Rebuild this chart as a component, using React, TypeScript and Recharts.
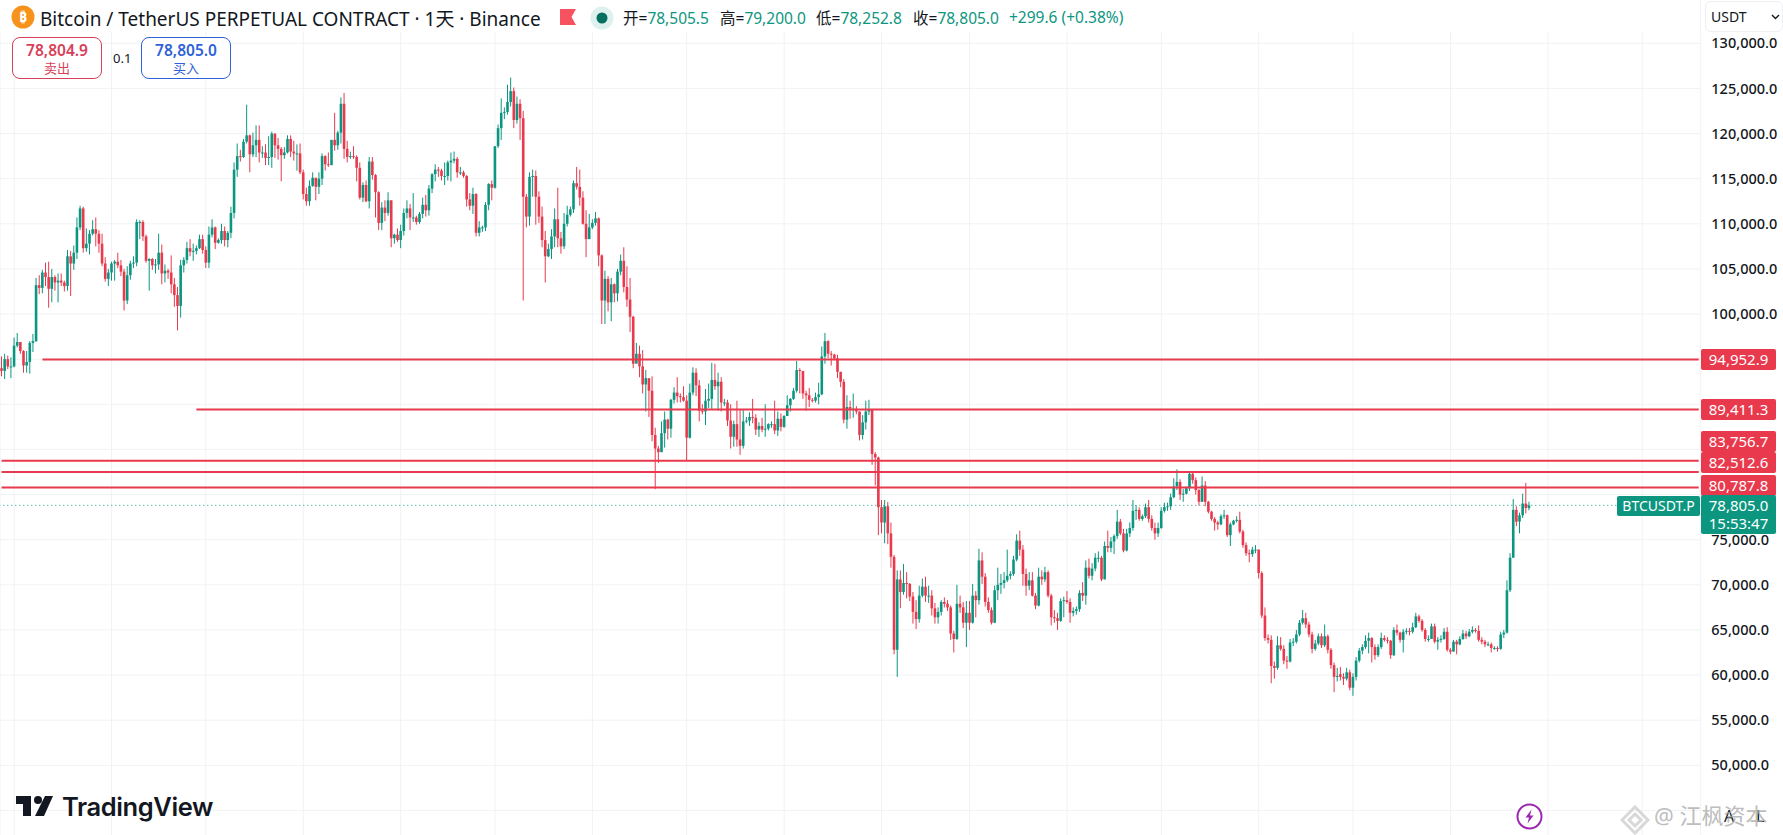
import { Bar, CartesianGrid, ComposedChart, ReferenceLine, XAxis, YAxis } from "recharts";

// daily candles in thousands of USDT, one row per month
const opens = [
  94.0, 93.7, 95.0, 94.2,
  94.2, 96.5, 96.9, 95.9, 94.3, 94.7, 96.8, 97.0, 103.2, 102.9, 104.6, 104.1, 102.8, 104.1, 103.5, 103.7, 103.5, 103.1, 106.4, 105.6, 106.8, 109.6, 111.7, 107.3, 107.8, 108.9, 109.4, 108.9, 107.8, 105.6, 103.9,
  104.6, 105.6, 105.8, 105.4, 104.7, 101.5, 104.3, 105.6, 105.7, 110.2, 110.2, 108.6, 105.9, 106.1, 105.4, 105.5, 106.8, 104.5, 104.8, 104.6, 103.3, 102.1, 100.9, 105.4, 106.0, 107.3, 106.9, 107.0, 107.3, 108.3,
  107.1, 105.7, 108.8, 109.6, 107.9, 108.2, 109.2, 108.2, 109.0, 111.2, 116.0, 117.5, 117.4, 119.1, 119.8, 117.7, 118.7, 119.3, 117.9, 117.9, 117.3, 117.4, 120.0, 118.7, 118.3, 117.6, 117.9, 119.4, 118.0, 117.8, 117.8,
  115.7, 113.3, 112.5, 114.2, 115.1, 114.1, 115.0, 117.5, 116.6, 116.5, 119.3, 118.7, 120.1, 123.3, 118.3, 117.4, 117.5, 117.4, 116.2, 112.9, 114.3, 112.5, 116.9, 115.4, 113.5, 110.1, 111.8, 111.2, 112.6, 108.4, 108.8,
  108.2, 109.2, 111.2, 111.7, 110.7, 110.7, 110.2, 111.1, 112.1, 111.5, 113.9, 115.5, 116.0, 115.9, 115.3, 115.3, 116.8, 117.0, 117.2, 115.7, 115.7, 115.3, 112.7, 112.0, 113.3, 109.0, 109.6, 109.6, 112.1, 114.4,
  114.0, 118.6, 120.6, 122.3, 122.4, 123.5, 124.7, 121.5, 123.3, 121.7, 113.0, 110.8, 115.2, 115.3, 113.0, 110.8, 108.2, 106.4, 107.2, 108.6, 110.5, 108.4, 107.5, 110.0, 111.0, 111.6, 114.5, 114.1, 112.9, 110.0, 108.3,
  109.6, 110.1, 110.6, 106.5, 101.5, 103.9, 101.3, 103.3, 102.3, 104.7, 105.9, 103.0, 101.6, 99.7, 94.5, 95.6, 94.2, 92.2, 92.9, 91.5, 86.6, 85.1, 84.7, 86.8, 88.3, 87.3, 90.5, 91.3, 90.9, 90.8,
  90.4, 86.3, 91.3, 93.5, 92.1, 89.3, 89.2, 90.4, 90.6, 92.7, 92.0, 92.5, 90.2, 90.2, 88.2, 86.4, 87.8, 86.1, 85.4, 88.1, 88.2, 88.6, 88.5, 87.2, 87.6, 87.2, 87.3, 87.8, 87.8, 87.1, 88.4,
  87.5, 88.7, 89.9, 90.6, 91.5, 93.8, 93.7, 91.2, 91.0, 90.5, 90.4, 90.8, 91.1, 95.3, 97.0, 95.6, 95.5, 95.1, 93.6, 92.5, 88.3, 89.7, 89.5, 89.5, 89.2, 86.6, 88.0, 89.2, 89.4, 84.5, 84.1,
  78.6, 76.9, 78.7, 75.7, 73.1, 62.8, 70.6, 69.2, 70.2, 70.1, 68.7, 67.0, 66.2, 68.8, 69.8, 68.8, 68.8, 67.4, 66.4, 67.0, 68.1, 67.9, 67.5, 64.6, 64.0, 67.9, 67.5, 65.8,
  66.9, 65.8, 68.8, 68.3, 72.7, 70.9, 68.1, 67.2, 65.8, 69.4, 70.0, 70.2, 70.5, 71.0, 71.2, 72.8, 74.9, 73.9, 71.2, 69.9, 70.5, 68.8, 67.7, 70.9, 70.6, 71.4, 68.8, 66.4, 66.3, 66.0, 68.2,
  68.3, 68.1, 66.9, 67.1, 67.3, 69.1, 68.8, 71.9, 71.0, 71.8, 73.0, 73.0, 70.6, 74.3, 74.1, 74.8, 75.4, 77.0, 75.7, 73.8, 75.7, 76.3, 78.2, 78.3, 77.3, 77.6, 78.6, 77.3, 76.3, 75.7,
  76.3, 78.2, 78.6, 78.7, 79.7, 80.9, 81.4, 80.0, 80.1, 80.7, 82.3, 81.6, 80.5, 79.2, 81.0, 79.2, 78.1, 77.3, 76.9, 76.7, 77.6, 77.7, 75.5, 76.7, 77.1, 77.2, 75.9, 74.4, 73.5, 73.4, 73.9,
  73.9, 71.3, 66.6, 64.1, 63.9, 61.0, 60.8, 63.3, 62.9, 61.6, 61.5, 63.6, 63.7, 64.5, 65.8, 66.3, 65.6, 64.5, 62.9, 63.5, 64.3, 63.3, 64.3, 62.8, 61.1, 59.8, 60.1, 59.8, 59.6, 60.3,
  58.6, 59.8, 61.6, 62.7, 63.1, 63.8, 64.1, 63.1, 62.2, 63.1, 64.1, 63.9, 63.8, 62.2, 65.0, 64.7, 63.9, 64.8, 64.9, 64.8, 65.3, 66.5, 66.0, 65.0, 64.0, 64.0, 65.4, 63.7, 63.9, 64.0, 64.8,
  62.8, 62.6, 63.7, 63.4, 64.0, 64.6, 64.3, 64.8, 65.0, 64.9, 63.9, 63.7, 63.4, 63.4, 63.0, 63.0, 62.9, 64.5, 64.7, 69.4, 73.0, 78.3, 77.0, 77.7, 79.0, 78.5055,
];
const closes = [
  93.7, 95.0, 94.2, 94.2,
  96.5, 96.9, 95.9, 94.3, 94.7, 96.8, 97.0, 103.2, 102.9, 104.6, 104.1, 102.8, 104.1, 103.5, 103.7, 103.5, 103.1, 106.4, 105.6, 106.8, 109.6, 111.7, 107.3, 107.8, 108.9, 109.4, 108.9, 107.8, 105.6, 103.9, 104.6,
  105.6, 105.8, 105.4, 104.7, 101.5, 104.3, 105.6, 105.7, 110.2, 110.2, 108.6, 105.9, 106.1, 105.4, 105.5, 106.8, 104.5, 104.8, 104.6, 103.3, 102.1, 100.9, 105.4, 106.0, 107.3, 106.9, 107.0, 107.3, 108.3, 107.1,
  105.7, 108.8, 109.6, 107.9, 108.2, 109.2, 108.2, 109.0, 111.2, 116.0, 117.5, 117.4, 119.1, 119.8, 117.7, 118.7, 119.3, 117.9, 117.9, 117.3, 117.4, 120.0, 118.7, 118.3, 117.6, 117.9, 119.4, 118.0, 117.8, 117.8, 115.7,
  113.3, 112.5, 114.2, 115.1, 114.1, 115.0, 117.5, 116.6, 116.5, 119.3, 118.7, 120.1, 123.3, 118.3, 117.4, 117.5, 117.4, 116.2, 112.9, 114.3, 112.5, 116.9, 115.4, 113.5, 110.1, 111.8, 111.2, 112.6, 108.4, 108.8, 108.2,
  109.2, 111.2, 111.7, 110.7, 110.7, 110.2, 111.1, 112.1, 111.5, 113.9, 115.5, 116.0, 115.9, 115.3, 115.3, 116.8, 117.0, 117.2, 115.7, 115.7, 115.3, 112.7, 112.0, 113.3, 109.0, 109.6, 109.6, 112.1, 114.4, 114.0,
  118.6, 120.6, 122.3, 122.4, 123.5, 124.7, 121.5, 123.3, 121.7, 113.0, 110.8, 115.2, 115.3, 113.0, 110.8, 108.2, 106.4, 107.2, 108.6, 110.5, 108.4, 107.5, 110.0, 111.0, 111.6, 114.5, 114.1, 112.9, 110.0, 108.3, 109.6,
  110.1, 110.6, 106.5, 101.5, 103.9, 101.3, 103.3, 102.3, 104.7, 105.9, 103.0, 101.6, 99.7, 94.5, 95.6, 94.2, 92.2, 92.9, 91.5, 86.6, 85.1, 84.7, 86.8, 88.3, 87.3, 90.5, 91.3, 90.9, 90.8, 90.4,
  86.3, 91.3, 93.5, 92.1, 89.3, 89.2, 90.4, 90.6, 92.7, 92.0, 92.5, 90.2, 90.2, 88.2, 86.4, 87.8, 86.1, 85.4, 88.1, 88.2, 88.6, 88.5, 87.2, 87.6, 87.2, 87.3, 87.8, 87.8, 87.1, 88.4, 87.5,
  88.7, 89.9, 90.6, 91.5, 93.8, 93.7, 91.2, 91.0, 90.5, 90.4, 90.8, 91.1, 95.3, 97.0, 95.6, 95.5, 95.1, 93.6, 92.5, 88.3, 89.7, 89.5, 89.5, 89.2, 86.6, 88.0, 89.2, 89.4, 84.5, 84.1, 78.6,
  76.9, 78.7, 75.7, 73.1, 62.8, 70.6, 69.2, 70.2, 70.1, 68.7, 67.0, 66.2, 68.8, 69.8, 68.8, 68.8, 67.4, 66.4, 67.0, 68.1, 67.9, 67.5, 64.6, 64.0, 67.9, 67.5, 65.8, 66.9,
  65.8, 68.8, 68.3, 72.7, 70.9, 68.1, 67.2, 65.8, 69.4, 70.0, 70.2, 70.5, 71.0, 71.2, 72.8, 74.9, 73.9, 71.2, 69.9, 70.5, 68.8, 67.7, 70.9, 70.6, 71.4, 68.8, 66.4, 66.3, 66.0, 68.2, 68.3,
  68.1, 66.9, 67.1, 67.3, 69.1, 68.8, 71.9, 71.0, 71.8, 73.0, 73.0, 70.6, 74.3, 74.1, 74.8, 75.4, 77.0, 75.7, 73.8, 75.7, 76.3, 78.2, 78.3, 77.3, 77.6, 78.6, 77.3, 76.3, 75.7, 76.3,
  78.2, 78.6, 78.7, 79.7, 80.9, 81.4, 80.0, 80.1, 80.7, 82.3, 81.6, 80.5, 79.2, 81.0, 79.2, 78.1, 77.3, 76.9, 76.7, 77.6, 77.7, 75.5, 76.7, 77.1, 77.2, 75.9, 74.4, 73.5, 73.4, 73.9, 73.9,
  71.3, 66.6, 64.1, 63.9, 61.0, 60.8, 63.3, 62.9, 61.6, 61.5, 63.6, 63.7, 64.5, 65.8, 66.3, 65.6, 64.5, 62.9, 63.5, 64.3, 63.3, 64.3, 62.8, 61.1, 59.8, 59.9, 59.8, 59.6, 60.3, 58.6,
  59.8, 61.6, 62.7, 63.1, 63.8, 64.1, 63.1, 62.2, 63.1, 64.1, 63.9, 63.8, 62.2, 65.0, 64.7, 63.9, 64.8, 64.9, 64.8, 65.3, 66.5, 66.0, 65.0, 64.0, 64.0, 65.4, 63.7, 63.9, 64.0, 64.8, 62.8,
  62.6, 63.7, 63.4, 64.0, 64.6, 64.3, 64.8, 65.0, 64.9, 63.9, 63.7, 63.4, 63.4, 63.0, 63.0, 62.9, 64.5, 64.7, 69.4, 73.0, 78.3, 77.0, 77.7, 79.0, 78.5, 78.805,
];
const highs = [
  95.3, 95.6, 95.4, 95.2,
  97.4, 97.9, 96.9, 96.0, 95.9, 97.0, 97.8, 104.0, 104.3, 104.9, 105.7, 105.8, 105.0, 104.3, 104.5, 104.5, 103.7, 107.1, 107.0, 107.6, 110.7, 112.0, 111.9, 109.5, 109.3, 110.4, 110.7, 109.3, 108.9, 106.3, 105.0,
  105.8, 106.0, 106.8, 106.0, 105.0, 105.3, 105.9, 106.4, 110.5, 110.4, 110.4, 108.8, 106.2, 106.2, 106.1, 108.9, 107.7, 105.5, 105.0, 106.5, 104.0, 103.0, 106.0, 106.3, 108.0, 108.3, 107.8, 107.6, 108.8, 108.8,
  107.5, 109.7, 110.5, 109.7, 108.4, 110.0, 109.7, 109.2, 111.9, 116.8, 118.9, 118.2, 119.4, 123.2, 119.9, 120.1, 120.9, 120.9, 118.6, 118.8, 119.7, 120.2, 120.0, 119.5, 118.5, 118.5, 119.8, 119.8, 119.2, 118.8, 118.9,
  116.0, 114.0, 114.8, 115.7, 115.1, 115.7, 117.8, 117.6, 117.9, 119.3, 122.3, 120.3, 124.0, 124.5, 119.2, 118.0, 118.6, 117.6, 116.8, 114.6, 114.8, 117.4, 117.4, 115.5, 113.6, 112.4, 112.6, 113.5, 112.6, 108.9, 109.5,
  109.9, 111.7, 112.6, 112.2, 113.4, 110.9, 111.3, 112.9, 113.2, 114.3, 115.6, 116.6, 116.3, 116.1, 116.8, 117.0, 117.9, 118.0, 117.4, 116.3, 115.9, 115.4, 113.4, 114.0, 113.4, 110.3, 109.8, 112.4, 114.5, 114.8,
  118.6, 121.0, 123.9, 122.9, 125.4, 126.2, 125.1, 124.1, 123.8, 122.5, 113.3, 115.7, 116.0, 115.9, 113.6, 111.9, 109.2, 107.8, 109.4, 111.7, 114.0, 109.1, 111.2, 112.0, 111.9, 114.8, 116.3, 116.0, 113.6, 111.5, 111.1,
  110.5, 111.3, 110.7, 106.6, 104.8, 104.2, 104.0, 103.4, 105.0, 106.6, 107.4, 105.3, 104.0, 99.8, 96.8, 96.5, 96.0, 93.8, 92.8, 93.1, 87.4, 85.4, 88.1, 89.2, 88.4, 90.6, 91.9, 93.0, 91.2, 92.0,
  91.0, 92.3, 94.1, 94.0, 92.7, 90.0, 91.7, 92.3, 94.6, 94.5, 93.5, 93.0, 90.6, 90.5, 90.0, 88.2, 90.4, 89.4, 89.4, 88.6, 89.1, 90.6, 88.9, 88.0, 88.5, 90.0, 87.9, 88.1, 90.4, 89.2, 89.0,
  88.8, 91.0, 90.7, 91.8, 94.8, 94.0, 93.5, 91.5, 91.8, 90.7, 91.3, 92.4, 96.4, 97.9, 97.1, 95.9, 95.6, 95.5, 93.6, 92.8, 91.0, 90.4, 91.2, 89.8, 89.2, 88.8, 90.4, 90.5, 89.4, 84.7, 84.2,
  79.4, 79.4, 79.2, 76.9, 73.3, 71.6, 71.6, 72.3, 71.4, 70.2, 69.2, 68.3, 69.9, 70.7, 70.9, 69.9, 69.4, 68.0, 67.5, 68.3, 68.6, 68.3, 67.7, 64.9, 70.0, 68.8, 68.1, 68.2,
  68.2, 70.1, 69.3, 74.0, 73.6, 71.3, 68.6, 67.5, 69.9, 71.9, 71.2, 71.4, 73.9, 71.5, 73.2, 75.6, 76.0, 74.4, 71.8, 71.4, 71.4, 69.1, 71.9, 71.6, 72.0, 71.6, 69.0, 67.2, 66.9, 68.5, 68.7,
  69.3, 68.5, 67.5, 67.6, 69.4, 70.3, 72.7, 72.9, 72.4, 73.5, 73.7, 73.2, 74.8, 76.0, 75.3, 75.6, 78.3, 77.3, 76.2, 76.2, 76.9, 79.4, 78.8, 78.6, 77.8, 79.0, 79.4, 77.7, 76.9, 76.9,
  78.6, 79.1, 79.1, 80.1, 81.8, 82.8, 81.7, 80.6, 80.9, 82.6, 82.5, 81.9, 80.6, 82.0, 81.5, 79.3, 78.2, 77.5, 77.1, 77.8, 78.3, 77.8, 76.9, 77.2, 77.6, 78.1, 76.1, 74.7, 73.9, 74.2, 74.4,
  73.9, 71.5, 67.5, 64.5, 64.4, 61.5, 64.3, 64.2, 63.3, 62.1, 64.0, 64.1, 65.0, 66.1, 67.2, 66.9, 65.9, 64.8, 63.9, 64.6, 64.6, 65.6, 64.5, 63.0, 61.4, 60.8, 60.9, 60.2, 60.8, 60.6,
  60.2, 62.0, 63.0, 63.4, 64.4, 64.7, 64.2, 63.4, 63.4, 64.7, 64.4, 64.2, 63.9, 65.3, 65.6, 64.8, 65.1, 65.2, 65.2, 65.8, 66.9, 66.7, 66.2, 65.2, 64.4, 65.7, 65.7, 64.2, 64.4, 65.2, 65.3,
  63.0, 63.9, 63.9, 64.3, 65.0, 64.9, 65.1, 65.4, 65.2, 65.5, 64.2, 63.9, 63.7, 63.6, 63.2, 63.2, 64.8, 65.0, 70.5, 73.5, 79.5, 78.7, 78.0, 80.1, 81.3, 79.2,
];
const lows = [
  93.1, 92.8, 93.9, 92.9,
  94.1, 96.3, 95.6, 93.5, 93.5, 93.4, 95.8, 96.9, 102.2, 102.3, 103.1, 100.7, 101.3, 102.6, 101.3, 103.1, 102.5, 102.6, 102.0, 104.9, 106.1, 109.3, 106.8, 106.9, 106.6, 108.7, 107.5, 106.8, 105.3, 103.6, 103.1,
  103.7, 103.7, 105.1, 104.2, 100.4, 101.1, 103.8, 105.1, 105.3, 108.3, 108.1, 105.7, 102.6, 104.9, 104.5, 104.9, 103.3, 103.5, 103.9, 102.3, 100.8, 98.2, 99.6, 104.6, 105.6, 106.4, 105.9, 106.6, 107.2, 106.7,
  105.1, 105.1, 108.5, 107.2, 107.8, 107.8, 107.5, 107.4, 108.4, 110.6, 115.2, 116.9, 117.3, 118.9, 115.7, 117.4, 117.4, 116.8, 117.3, 116.5, 116.5, 116.2, 117.3, 117.1, 114.7, 117.2, 117.8, 117.4, 117.0, 115.9, 115.5,
  112.7, 112.0, 112.0, 114.1, 112.6, 113.3, 114.3, 115.9, 116.3, 116.5, 118.1, 118.2, 118.9, 117.2, 116.8, 117.2, 117.2, 114.7, 112.7, 112.4, 112.4, 111.7, 114.9, 110.7, 109.3, 109.3, 110.3, 110.9, 107.4, 107.8, 108.0,
  107.3, 108.7, 110.6, 109.3, 110.2, 109.9, 110.0, 110.6, 110.8, 110.9, 113.4, 114.7, 115.2, 114.8, 114.3, 114.8, 114.7, 116.7, 115.1, 115.4, 115.1, 111.9, 111.5, 111.1, 108.6, 108.6, 109.1, 109.2, 111.5, 112.6,
  113.9, 118.4, 119.3, 121.6, 122.1, 123.0, 120.6, 121.1, 119.3, 101.5, 109.6, 109.8, 113.0, 109.9, 110.1, 107.4, 103.5, 106.3, 106.1, 107.4, 107.4, 106.7, 107.2, 109.7, 110.8, 111.2, 113.8, 112.0, 109.9, 106.3, 108.6,
  109.4, 109.8, 105.3, 98.9, 98.9, 100.3, 99.2, 101.3, 101.4, 104.3, 102.4, 100.8, 98.0, 94.0, 94.9, 93.0, 91.2, 89.2, 88.6, 85.9, 80.6, 83.5, 84.7, 85.2, 86.1, 86.3, 90.1, 90.2, 90.2, 90.3,
  83.8, 86.2, 91.0, 90.9, 88.1, 88.9, 87.7, 89.6, 89.5, 91.6, 89.3, 89.2, 89.8, 87.6, 85.1, 85.3, 85.3, 84.4, 85.1, 87.9, 87.6, 87.9, 86.6, 86.4, 86.9, 86.4, 87.1, 87.4, 86.7, 86.5, 87.0,
  87.4, 88.7, 89.2, 90.5, 91.3, 91.2, 90.6, 89.3, 89.7, 90.2, 90.2, 90.0, 91.0, 94.5, 95.1, 94.3, 94.9, 92.9, 91.9, 87.9, 87.3, 88.4, 88.5, 88.9, 86.0, 86.1, 87.2, 88.8, 83.3, 81.0, 75.5,
  75.7, 74.6, 74.5, 71.9, 62.3, 59.8, 67.4, 68.9, 68.5, 68.2, 65.7, 65.1, 65.8, 68.6, 68.1, 68.0, 66.6, 65.7, 65.7, 66.6, 67.5, 67.1, 63.9, 62.5, 63.9, 66.9, 65.2, 63.1,
  65.0, 65.7, 66.4, 67.8, 70.1, 67.6, 66.9, 65.6, 65.8, 68.3, 69.0, 69.6, 70.3, 70.6, 71.0, 72.6, 73.2, 69.9, 68.8, 69.4, 68.7, 67.3, 67.6, 70.0, 70.3, 68.6, 65.5, 65.8, 65.0, 65.9, 66.4,
  67.9, 65.8, 66.5, 66.7, 67.0, 68.2, 67.8, 70.7, 70.5, 71.5, 72.5, 70.4, 70.6, 73.6, 73.6, 73.4, 75.1, 75.5, 73.6, 73.7, 75.3, 76.0, 77.2, 77.1, 77.1, 77.4, 76.9, 76.0, 75.0, 75.3,
  76.2, 78.0, 78.2, 78.3, 79.6, 80.5, 79.4, 79.2, 80.0, 80.4, 81.2, 80.0, 78.8, 79.2, 78.7, 77.9, 77.1, 76.0, 76.1, 76.6, 77.3, 75.3, 74.3, 76.6, 76.9, 75.7, 74.1, 73.2, 72.5, 73.1, 73.5,
  70.7, 66.3, 63.8, 63.5, 59.1, 59.6, 60.6, 62.7, 61.2, 60.7, 61.4, 63.2, 63.5, 64.3, 65.6, 65.2, 64.2, 62.4, 62.7, 63.3, 63.0, 63.1, 62.4, 60.7, 58.1, 59.3, 59.4, 58.9, 59.4, 58.3,
  57.7, 59.4, 61.4, 62.3, 62.9, 62.4, 61.4, 61.7, 62.0, 62.9, 63.7, 63.5, 61.8, 62.1, 64.4, 63.6, 62.5, 64.5, 64.4, 64.6, 65.2, 65.8, 64.8, 63.7, 63.7, 64.0, 63.5, 62.8, 63.6, 63.9, 62.6,
  62.3, 62.6, 62.3, 63.3, 63.9, 64.0, 64.2, 64.6, 64.7, 63.7, 63.4, 63.1, 63.2, 62.5, 62.8, 62.6, 62.8, 64.1, 64.6, 69.2, 73.0, 76.5, 75.7, 77.4, 77.9, 78.2528,
];

// a calendar month start for each vertical grid line
const monthStarts = [
  "2025-05-01", "2025-06-01", "2025-07-01", "2025-08-01", "2025-09-01", "2025-10-01", "2025-11-01", "2025-12-01", "2026-01-01",
  "2026-02-01", "2026-03-01", "2026-04-01", "2026-05-01", "2026-06-01", "2026-07-01", "2026-08-01", "2026-09-01", "2026-10-01",
];
const priceTicks = [50000, 55000, 60000, 65000, 70000, 75000, 80000, 85000, 90000, 95000, 100000, 105000, 110000, 115000, 120000, 125000, 130000];
const gridPrices = [45000, ...priceTicks];
const levels = [94952.9, 89411.3, 83756.7, 82512.6, 80787.8];
const levelStarts = ["2025-05-10", "2025-06-28", "2025-04-27", "2025-04-27", "2025-04-27"];
const levelTagShift = [0, 0, -19.5, -9, -2];
const lastPrice = 78805.0;
const rowCount = 541;

const CHART_H = 835;
const PRICE_MIN = 42278;
const PRICE_MAX = 134798;
const GREEN = "#0c9680";
const RED = "#e8394d";
const SANS = '"Noto Sans", "Noto Sans CJK SC", sans-serif';

const dates: string[] = [];
for (let i = 0; i < rowCount; i++) {
  dates.push(new Date(Date.UTC(2025, 3, 27 + i)).toISOString().slice(0, 10));
}

const rows = dates.map((date, i) =>
  i < closes.length
    ? { date, open: opens[i] * 1000, high: highs[i] * 1000, low: lows[i] * 1000, close: closes[i] * 1000 }
    : { date }
);

// the price tags sit over the axis labels, so they live in an html layer on top of the chart
const priceY = (p: number) => ((PRICE_MAX - p) / (PRICE_MAX - PRICE_MIN)) * CHART_H;
const fmt = (v: number) => v.toLocaleString("en-US", { minimumFractionDigits: 1 });

function Candle(props: any) {
  const { x, y, width, height, payload } = props;
  if (payload.close == null) return null;
  const { open, high, low, close } = payload;
  const color = close >= open ? GREEN : RED;
  const center = x + width / 2;
  const yOf = (p: number) => y + ((high - p) / (high - low)) * height;
  const top = yOf(Math.max(open, close));
  const bottom = yOf(Math.min(open, close));
  return (
    <g>
      <line x1={center} x2={center} y1={y} y2={y + height} stroke={color} strokeWidth={1} />
      <rect x={center - 1.3} y={top} width={2.6} height={Math.max(bottom - top, 1)} fill={color} />
    </g>
  );
}

function abs(left: number, top: number): React.CSSProperties {
  return { position: "absolute", left, top, whiteSpace: "nowrap" };
}

function PriceTag({ price, shift = 0, fill, text, sub }: { price: number; shift?: number; fill: string; text: string; sub?: string }) {
  return (
    <div
      style={{
        ...abs(1701, priceY(price) + shift - 10.5),
        width: 75,
        height: sub ? 39 : 21,
        background: fill,
        borderRadius: 2,
        color: "#fff",
        fontSize: 15,
        lineHeight: sub ? "18px" : "21px",
        paddingTop: sub ? 1 : 0,
        boxSizing: "border-box",
        textAlign: "center",
      }}
    >
      {text}
      {sub && <div>{sub}</div>}
    </div>
  );
}

function Ohlc({ left, name, value }: { left: number; name: string; value: string }) {
  return (
    <span style={{ ...abs(left, 6), fontSize: 15.5, color: GREEN }}>
      <span style={{ color: "#131722" }}>{name}=</span>
      {value}
    </span>
  );
}

function TradeBox({ left, price, action, color }: { left: number; price: string; action: string; color: string }) {
  return (
    <div
      style={{
        ...abs(left, 37),
        width: 90,
        height: 42,
        boxSizing: "border-box",
        border: `1px solid ${color}`,
        borderRadius: 8,
        color,
        textAlign: "center",
        background: "#fff",
      }}
    >
      <div style={{ fontSize: 15.5, fontWeight: 600, lineHeight: "22px", marginTop: 1 }}>{price}</div>
      <div style={{ fontSize: 13, lineHeight: "15px" }}>{action}</div>
    </div>
  );
}

export default function App() {
  return (
    <div style={{ position: "fixed", left: 0, top: 0, width: 1783, height: CHART_H, background: "#fff", overflow: "hidden", fontFamily: SANS }}>
      <ComposedChart width={1783} height={CHART_H} data={rows} margin={{ top: 0, right: 0, bottom: 0, left: 0 }} barCategoryGap={0}>
        <CartesianGrid stroke="#f1f2f5" horizontalValues={gridPrices} />
        <XAxis dataKey="date" hide ticks={monthStarts} interval={0} />
        <YAxis
          orientation="right"
          width={82.7}
          domain={[PRICE_MIN, PRICE_MAX]}
          allowDataOverflow
          ticks={priceTicks}
          interval={0}
          axisLine={false}
          tickLine={false}
          tickSize={0}
          tickMargin={11}
          tick={{ fill: "#131722", fontSize: 14.5, fontFamily: SANS, fontWeight: 500 }}
          tickFormatter={fmt}
        />
        <Bar dataKey={(d: any) => (d.close == null ? null : [d.low, d.high])} shape={Candle} isAnimationActive={false} />
        <ReferenceLine y={lastPrice} stroke={GREEN} strokeDasharray="1 3" />
        {levels.map((level, i) => (
          <ReferenceLine
            key={level}
            segment={[
              { x: levelStarts[i], y: level },
              { x: dates[rowCount - 1], y: level },
            ]}
            stroke={RED}
            strokeWidth={2}
          />
        ))}
      </ComposedChart>

      {levels.map((level, i) => (
        <PriceTag key={level} price={level} shift={levelTagShift[i]} fill={RED} text={fmt(level)} />
      ))}
      <PriceTag price={lastPrice} fill={GREEN} text={fmt(lastPrice)} sub="15:53:47" />
      <div
        style={{
          ...abs(1617, priceY(lastPrice) - 9.5),
          width: 83,
          height: 20,
          background: GREEN,
          borderRadius: 2,
          color: "#fff",
          fontSize: 14,
          lineHeight: "20px",
          textAlign: "center",
        }}
      >
        BTCUSDT.P
      </div>

      <div style={{ ...abs(0, 0), width: 1700, height: 32, background: "#fff" }} />
      <svg style={abs(11, 5)} width={24} height={24} viewBox="0 0 24 24">
        <circle cx={12} cy={12} r={11.5} fill="#f7931a" />
        <text x={12} y={17} fill="#fff" fontSize={14} fontWeight={700} textAnchor="middle" fontFamily={SANS}>
          ₿
        </text>
      </svg>
      <span style={{ ...abs(40, 4), fontSize: 19, color: "#131722" }}>Bitcoin / TetherUS PERPETUAL CONTRACT · 1天 · Binance</span>
      <svg style={abs(560, 9)} width={16} height={16} viewBox="0 0 16 16">
        <path d="M0 0H16L11.5 8L16 16H0Z" fill="#f7525f" />
      </svg>
      <svg style={abs(590, 6)} width={24} height={24} viewBox="0 0 24 24">
        <circle cx={12} cy={12} r={11.5} fill="#dff1ee" />
        <circle cx={12} cy={12} r={5.5} fill="#076f5f" />
      </svg>
      <Ohlc left={623} name="开" value="78,505.5" />
      <Ohlc left={720} name="高" value="79,200.0" />
      <Ohlc left={816} name="低" value="78,252.8" />
      <Ohlc left={913} name="收" value="78,805.0" />
      <span style={{ ...abs(1009, 6), fontSize: 15.5, color: GREEN }}>+299.6 (+0.38%)</span>

      <TradeBox left={12} price="78,804.9" action="卖出" color="#d8405a" />
      <span style={{ ...abs(113, 49), fontSize: 13, color: "#131722" }}>0.1</span>
      <TradeBox left={141} price="78,805.0" action="买入" color="#2f62d8" />

      <div style={{ ...abs(1705, 1), width: 78, height: 31, boxSizing: "border-box", border: "1px solid #eeeff2", borderRadius: 6, background: "#fff", color: "#131722", fontSize: 14, lineHeight: "30px", paddingLeft: 5 }}>
        USDT
      </div>
      <svg style={abs(1771, 14)} width={9} height={6} viewBox="0 0 9 6">
        <path d="M1 1L4.5 4.5L8 1" stroke="#131722" strokeWidth={1.4} fill="none" />
      </svg>

      <svg style={abs(16, 796)} width={38} height={21} viewBox="0 0 38 21">
        <path d="M0 0H15V20H7V8H0Z M29 0H37L28 20H19Z" fill="#131722" />
        <circle cx={22} cy={4} r={4} fill="#131722" />
      </svg>
      <span style={{ ...abs(62, 791), fontFamily: "Inter, sans-serif", fontSize: 25.5, fontWeight: 600, color: "#131722", letterSpacing: -0.4 }}>TradingView</span>

      <svg style={abs(1516, 803)} width={27} height={27} viewBox="0 0 27 27">
        <circle cx={13.5} cy={13.5} r={12} fill="#fff" stroke="#9c27b0" strokeWidth={2} />
        <path d="M15.5 6.5L9.5 14.5H13L11.5 20.5L17.5 12.5H14Z" fill="#9c27b0" />
      </svg>

      <span style={{ ...abs(1724, 805), fontSize: 16, color: "#131722" }}>A</span>
      <span style={{ ...abs(1756, 805), fontSize: 16, color: "#131722" }}>L</span>
      <svg style={abs(1620, 805)} width={30} height={30} viewBox="0 0 30 30">
        <path d="M15 2L28 15L15 28L2 15Z M15 9L21 15L15 21L9 15Z" fill="none" stroke="#c8c8c8" strokeWidth={3} opacity={0.7} />
      </svg>
      <span style={{ ...abs(1654, 798), fontSize: 22, color: "#a8a8a8", opacity: 0.75 }}>@ 江枫资本</span>
    </div>
  );
}
